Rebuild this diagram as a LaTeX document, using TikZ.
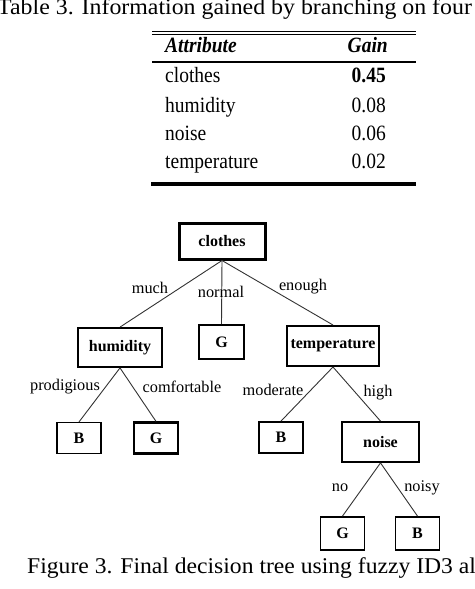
\documentclass[tikz,border=0pt]{standalone}
\usepackage{fontspec}
\setmainfont{Liberation Serif}
\begin{document}
\begin{tikzpicture}[x=1pt, y=-1pt,
    box/.style={draw=borderColour, line width=1.8pt, inner sep=0pt,
        font=\fontsize{16}{18}\selectfont\bfseries},
    leaf/.style={box, minimum width=44pt, minimum height=31pt},
    lbl/.style={inner sep=0pt, font=\fontsize{16.3}{18}\selectfont},
    edge/.style={draw=edgeColour, line width=0.9pt},
    cell/.style={inner sep=0pt, yscale=1.12, font=\fontsize{19.5}{22}\selectfont},
    capt/.style={inner sep=0pt, xscale=1.05, anchor=base west,
        font=\fontsize{22.5}{25}\selectfont}]
    \definecolor{borderColour}{HTML}{000000}
    \definecolor{edgeColour}{HTML}{333333}

    \def\tabLeft{152}
    \def\tabRight{416}

    \useasboundingbox (0,0) rectangle (474,589);
    \clip (0,0) rectangle (474,589);

    % Title of the table (cut by the page)
    \node[capt, xscale=1.01] (title) at (-3,14.5) {Table 3. Information gained by branching on four};

    % Table rules
    \draw[line width=1.2pt] (\tabLeft,31.5) -- (\tabRight,31.5);
    \draw[line width=1.2pt] (\tabLeft,34.4) -- (\tabRight,34.4);
    \draw[line width=1.2pt] (\tabLeft,62) -- (\tabRight,62);
    \draw[line width=3.2pt] (\tabLeft-1,184) -- (\tabRight,184);

    % Table head and rows
    \node[cell, anchor=base west, font=\fontsize{19.5}{22}\selectfont\bfseries\itshape] (attrHead) at (165,52) {Attribute};
    \node[cell, anchor=base east, font=\fontsize{19.5}{22}\selectfont\bfseries\itshape] (gainHead) at (388,52) {Gain};
    \foreach \attr/\gain/\yy [count=\i] in {clothes/\textbf{0.45}/82, humidity/0.08/112, noise/0.06/140, temperature/0.02/168} {
        \node[cell, anchor=base west] (attr\i) at (165,\yy) {\attr};
        \node[cell, anchor=base east] (gain\i) at (386,\yy) {\gain};
    }

    % Tree nodes
    \node[box, line width=3pt, minimum width=86pt, minimum height=36pt] (clothes) at (222,241) {clothes};
    \node[box, minimum width=84pt, minimum height=39pt] (humidity) at (120,347.5) {humidity};
    \node[box, minimum width=45pt, minimum height=34pt] (normalG) at (221.5,342) {G};
    \node[box, line width=2pt, minimum width=92pt, minimum height=40pt] (temperature) at (333,346) {temperature};
    \node[leaf, line width=1.1pt] (prodigiousB) at (79,438) {B};
    \node[leaf, line width=2.2pt] (comfortableG) at (156,438) {G};
    \node[leaf] (moderateB) at (281,437.5) {B};
    \node[box, minimum width=77pt, minimum height=40pt] (noise) at (380.5,442) {noise};
    \node[leaf, minimum height=33pt] (noG) at (342.5,533.5) {G};
    \node[leaf, minimum height=33pt] (noisyB) at (417.5,533.5) {B};

    % Branches
    \draw[edge] (clothes.south) -- (humidity.north);
    \draw[edge] (clothes.south) -- (normalG.north);
    \draw[edge] (clothes.south) -- (temperature.north);
    \draw[edge] (humidity.south) -- (prodigiousB.north);
    \draw[edge] (humidity.south) -- (comfortableG.north);
    \draw[edge] (temperature.south) -- (moderateB.north);
    \draw[edge] (temperature.south) -- (noise.north);
    \draw[edge] (noise.south) -- (noG.north);
    \draw[edge] (noise.south) -- (noisyB.north);

    % Branch labels
    \node[lbl] (muchLbl) at (150,288) {much};
    \node[lbl] (normalLbl) at (221,292) {normal};
    \node[lbl] (enoughLbl) at (303,287) {enough};
    \node[lbl] (prodigiousLbl) at (65,387) {prodigious};
    \node[lbl] (comfortableLbl) at (182,387) {comfortable};
    \node[lbl] (moderateLbl) at (273,390) {moderate};
    \node[lbl] (highLbl) at (378,393) {high};
    \node[lbl] (noLbl) at (340,488) {no};
    \node[lbl] (noisyLbl) at (422,488) {noisy};

    % Caption (cut by the page)
    \node[capt] (caption) at (27,573) {Figure 3. Final decision tree using fuzzy ID3 algorithm};

\end{tikzpicture}
\end{document}
